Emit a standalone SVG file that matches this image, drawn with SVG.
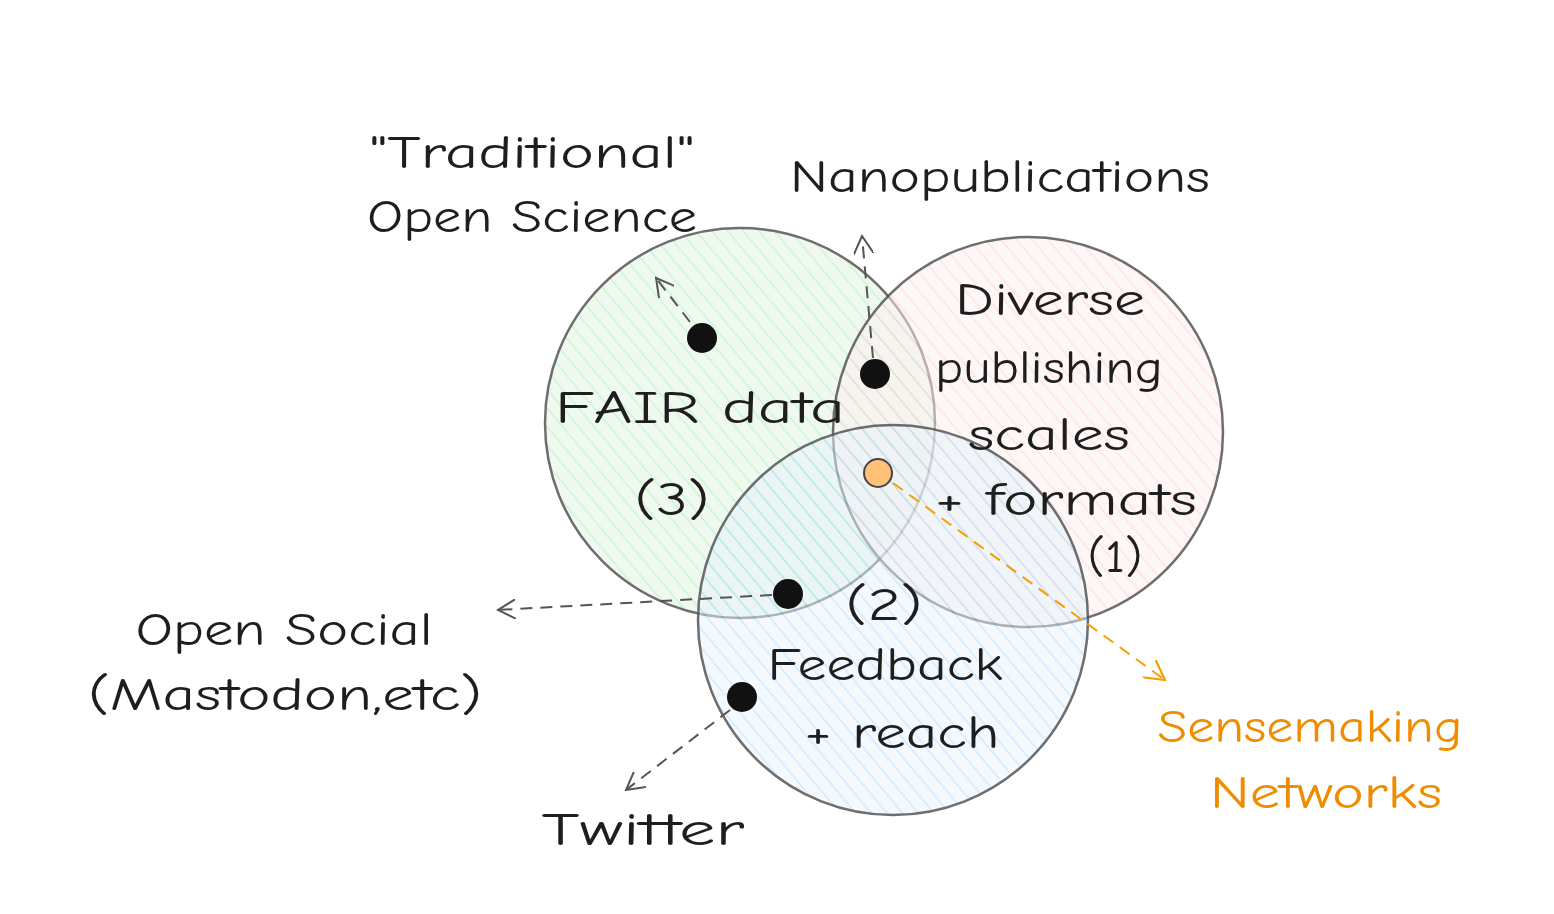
<svg xmlns="http://www.w3.org/2000/svg" width="1554" height="914" viewBox="0 0 1554 914">
<defs>
<pattern id="hg" patternUnits="userSpaceOnUse" width="12" height="12" patternTransform="rotate(-40)"><rect width="12" height="12" fill="#eaf7ea"/><line x1="0" y1="0" x2="0" y2="12" stroke="#b2f2bb" stroke-width="3"/></pattern>
<pattern id="hr" patternUnits="userSpaceOnUse" width="12" height="12" patternTransform="rotate(-40)"><rect width="12" height="12" fill="#fdf0f0"/><line x1="0" y1="0" x2="0" y2="12" stroke="#ffc9c9" stroke-width="3"/></pattern>
<pattern id="hb" patternUnits="userSpaceOnUse" width="12" height="12" patternTransform="rotate(-40)"><rect width="12" height="12" fill="#e9f3fb"/><line x1="0" y1="0" x2="0" y2="12" stroke="#a5d8ff" stroke-width="3"/></pattern>
<marker id="ah" viewBox="0 0 20 20" refX="18" refY="10" markerWidth="20" markerHeight="20" orient="auto" markerUnits="userSpaceOnUse"><path d="M0 0 L18 10 L0 20" fill="none" stroke="#555" stroke-width="2"/></marker>
<marker id="ao" viewBox="0 0 20 20" refX="18" refY="10" markerWidth="22" markerHeight="22" orient="auto" markerUnits="userSpaceOnUse"><path d="M0 0 L18 10 L0 20" fill="none" stroke="#f59f00" stroke-width="2"/></marker>
</defs>
<style>
.c{stroke:#555;stroke-width:2.5;opacity:.85}
.t{font-family:"Comic Neue","Liberation Sans",sans-serif;font-size:46px;fill:#1e1e1e;text-anchor:middle}
.o{fill:#f08c00}
.d{fill:#111}
.l{fill:none;stroke:#555;stroke-width:2;stroke-dasharray:12 8}
</style>
<rect width="1554" height="914" fill="#fff"/>
<g id="green"><circle class="c" cx="740" cy="423" r="195" fill="url(#hg)" fill-opacity="0.8"/></g>
<g id="red"><circle class="c" cx="1028" cy="432" r="195" fill="url(#hr)" fill-opacity="0.6"/></g>
<g id="blue"><circle class="c" cx="893" cy="620" r="195" fill="url(#hb)" fill-opacity="0.6"/></g>
<g id="connectors">
<line class="l" x1="690" y1="322" x2="656" y2="278" marker-end="url(#ah)"/>
<line class="l" x1="873" y1="358" x2="862" y2="236" marker-end="url(#ah)"/>
<line class="l" x1="893" y1="483" x2="1165" y2="680" style="stroke:#f59f00" marker-end="url(#ao)"/>
<line class="l" x1="772" y1="595" x2="498" y2="610" marker-end="url(#ah)"/>
<line class="l" x1="730" y1="710" x2="626" y2="790" marker-end="url(#ah)"/>
</g>
<g id="dots">
<circle class="d" cx="702" cy="338" r="15"/>
<circle class="d" cx="875" cy="374" r="15"/>
<circle cx="878" cy="473" r="14" fill="#ffc078" stroke="#444" stroke-width="2"/>
<circle class="d" cx="788" cy="594" r="15"/>
<circle class="d" cx="742" cy="697" r="15"/>
</g>
<g id="labels" lengthAdjust="spacingAndGlyphs">
<text class="t" x="532" y="168" textLength="325" lengthAdjust="spacingAndGlyphs">"Traditional"</text>
<text class="t" x="532" y="232" textLength="330" lengthAdjust="spacingAndGlyphs">Open Science</text>
<text class="t" x="1000" y="192" textLength="420" lengthAdjust="spacingAndGlyphs">Nanopublications</text>
<text class="t" x="1050" y="315" textLength="190" lengthAdjust="spacingAndGlyphs">Diverse</text>
<text class="t" x="1049" y="383" textLength="228" lengthAdjust="spacingAndGlyphs">publishing</text>
<text class="t" x="1049" y="450" textLength="162" lengthAdjust="spacingAndGlyphs">scales</text>
<text class="t" x="1066" y="515" textLength="262" lengthAdjust="spacingAndGlyphs">+ formats</text>
<text class="t" x="1115" y="572" textLength="55" lengthAdjust="spacingAndGlyphs">(1)</text>
<text class="t" x="700" y="423" textLength="290" lengthAdjust="spacingAndGlyphs">FAIR data</text>
<text class="t" x="672" y="515" textLength="75" lengthAdjust="spacingAndGlyphs">(3)</text>
<text class="t" x="884" y="620" textLength="77" lengthAdjust="spacingAndGlyphs">(2)</text>
<text class="t" x="885" y="680" textLength="235" lengthAdjust="spacingAndGlyphs">Feedback</text>
<text class="t" x="902" y="748" textLength="195" lengthAdjust="spacingAndGlyphs">+ reach</text>
<text class="t" x="284" y="645" textLength="297" lengthAdjust="spacingAndGlyphs">Open Social</text>
<text class="t" x="285" y="710" textLength="394" lengthAdjust="spacingAndGlyphs">(Mastodon,etc)</text>
<text class="t" x="643" y="845" textLength="203" lengthAdjust="spacingAndGlyphs">Twitter</text>
<text class="t o" x="1310" y="742" textLength="305" lengthAdjust="spacingAndGlyphs">Sensemaking</text>
<text class="t o" x="1326" y="808" textLength="232" lengthAdjust="spacingAndGlyphs">Networks</text>
</g>
</svg>
